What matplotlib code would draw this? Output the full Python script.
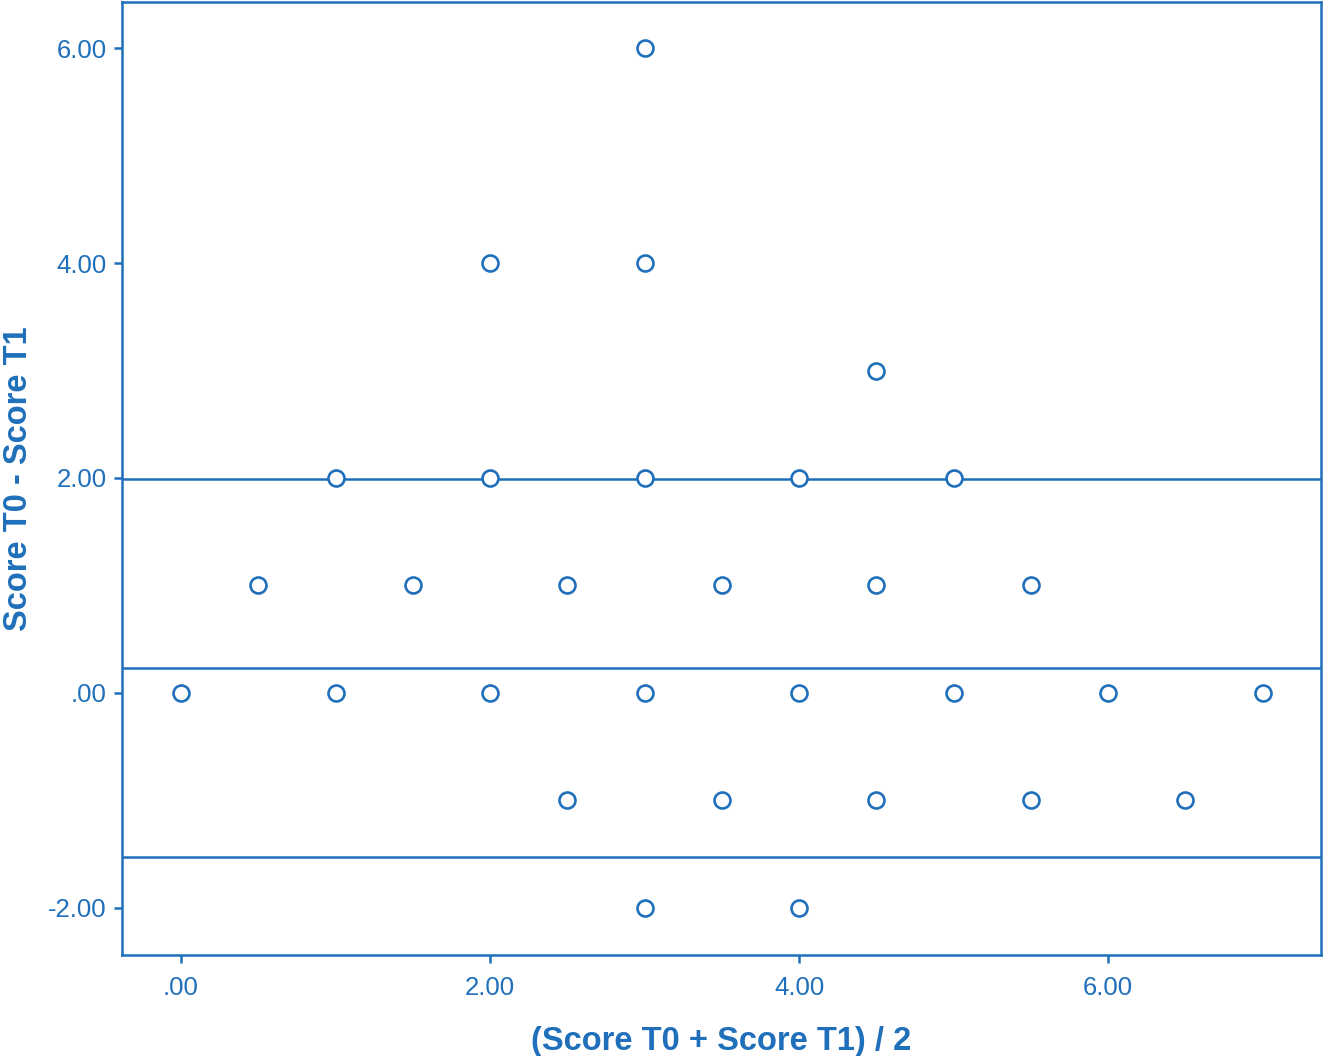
import matplotlib
matplotlib.use("Agg")
import matplotlib.pyplot as plt

plt.rcParams['font.family'] = ['Liberation Sans', 'DejaVu Sans']

mean_xy = [0, 0.5, 1, 1, 1.5, 2, 2, 2, 2.5, 2.5, 3, 3, 3, 3, 3,
           3.5, 3.5, 4, 4, 4, 4.5, 4.5, 4.5, 5, 5, 5.5, 5.5, 6, 6.5, 7]
diff_xy = [0, 1, 2, 0, 1, 4, 2, 0, 1, -1, 6, 4, 2, 0, -2,
           1, -1, 2, 0, -2, 3, 1, -1, 2, 0, 1, -1, 0, -1, 0]
ref_lines = [1.99, 0.23, -1.53]
x_ticks = [0, 2, 4, 6]
x_labels = ['.00', '2.00', '4.00', '6.00']
y_ticks = [-2, 0, 2, 4, 6]
y_labels = ['-2.00', '.00', '2.00', '4.00', '6.00']

C = '#1f6fba'
fig = plt.figure(figsize=(13.23, 10.56), dpi=100)
ax = fig.add_axes([0.0922, 0.0956, 0.9063, 0.9025])
for v in ref_lines:
    ax.axhline(v, color=C, lw=1.8, zorder=1)
ax.plot(mean_xy, diff_xy, 'o', ms=11.5, mfc='white', mec=C, mew=1.9, ls='none', zorder=3)
ax.set_xlim(-0.382, 7.378)
ax.set_ylim(-2.44, 6.43)
ax.set_xticks(x_ticks)
ax.set_xticklabels(x_labels)
ax.set_yticks(y_ticks)
ax.set_yticklabels(y_labels)
for s in ax.spines.values():
    s.set_color(C)
    s.set_linewidth(1.8)
ax.tick_params(colors=C, labelsize=18.5, length=6, width=1.8)
ax.tick_params(axis='y', pad=5)
ax.tick_params(axis='x', pad=9)
ax.set_xlabel('(Score T0 + Score T1) / 2', color=C, fontsize=23.5, fontweight='bold', labelpad=19)
ax.set_ylabel('Score T0 - Score T1', color=C, fontsize=23.5, fontweight='bold', labelpad=10)
fig.savefig('out.png', dpi=100)
